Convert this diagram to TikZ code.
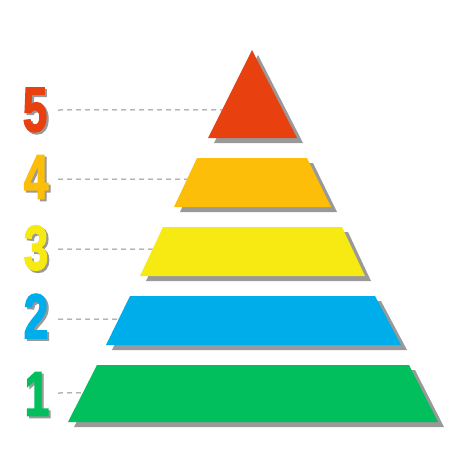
\documentclass[tikz,border=0pt]{standalone}
\usepackage{fontspec}
\setmainfont{Liberation Sans}
\newfontfamily\numfont[FakeBold=2.5]{Liberation Sans Bold}
\usetikzlibrary{calc}
\definecolor{shd}{HTML}{999999}
\definecolor{dashc}{HTML}{8C8C8C}
\definecolor{cfive}{HTML}{E8400F}
\definecolor{cfour}{HTML}{FDBE0A}
\definecolor{cthree}{HTML}{F6EA12}
\definecolor{ctwo}{HTML}{00ADEB}
\definecolor{cone}{HTML}{00BF5C}
\newcommand{\shadowdigit}[1]{\makebox[0pt][l]{\hspace{3pt}\raisebox{-2pt}{\color{shd}#1}}#1}
\begin{document}
\begin{tikzpicture}[x=1pt,y=-1pt,
  shadowfill/.style={fill=shd},
  dashln/.style={draw=dashc, line width=1pt, dash pattern=on 5pt off 4pt},
  num/.style={font=\fontsize{63}{63}\numfont, inner sep=0pt}]
\useasboundingbox[fill=white] (0,0) rectangle (474,474);
% number labels (each with its grey drop shadow)
\foreach \d/\c/\x/\y in {5/cfive/35/111, 4/cfour/36/178, 3/cthree/36/249, 2/ctwo/36/317, 1/cone/37/395}{
  \node[num, text=\c] (n\d) at (\x,\y) {\scalebox{0.7}[1]{\shadowdigit{\d}}};
}
% dashed leader start points
\coordinate (d5) at (58,110);
\coordinate (d4) at (58,179);
\coordinate (d3) at (58,249);
\coordinate (d2) at (58,319);
\coordinate (d1) at (58,393);
% layer corners
\coordinate (a5) at (252,50);  \coordinate (bl5) at (208,138); \coordinate (br5) at (297,138);
\coordinate (tl4) at (197,158); \coordinate (tr4) at (307,158); \coordinate (br4) at (331,207); \coordinate (bl4) at (174,207);
\coordinate (tl3) at (163,227); \coordinate (tr3) at (342,227); \coordinate (br3) at (365,276); \coordinate (bl3) at (140,276);
\coordinate (tl2) at (130,296); \coordinate (tr2) at (375,296); \coordinate (br2) at (401,345); \coordinate (bl2) at (106,345);
\coordinate (tl1) at (97,365);  \coordinate (tr1) at (409,365); \coordinate (br1) at (438,422); \coordinate (bl1) at (68,422);
% leader end points on the left edges
\coordinate (e5) at ($(a5)!0.68!(bl5)$);
\coordinate (e4) at ($(tl4)!0.43!(bl4)$);
\coordinate (e3) at ($(tl3)!0.45!(bl3)$);
\coordinate (e2) at ($(tl2)!0.47!(bl2)$);
\coordinate (e1) at ($(tl1)!0.49!(bl1)$);
\foreach \i in {1,...,5}{ \draw[dashln] (d\i) -- (e\i); }
% shadows
\tikzset{sh/.style={shift={(6,5)}}}
\fill[shadowfill] ([sh]a5) -- ([sh]br5) -- ([sh]bl5) -- cycle;
\foreach \i in {1,...,4}{
  \fill[shadowfill] ([sh]tl\i) -- ([sh]tr\i) -- ([sh]br\i) -- ([sh]bl\i) -- cycle;
}
% layers
\fill[cfive] (a5) -- (br5) -- (bl5) -- cycle;
\fill[cfour] (tl4) -- (tr4) -- (br4) -- (bl4) -- cycle;
\fill[cthree] (tl3) -- (tr3) -- (br3) -- (bl3) -- cycle;
\fill[ctwo] (tl2) -- (tr2) -- (br2) -- (bl2) -- cycle;
\fill[cone] (tl1) -- (tr1) -- (br1) -- (bl1) -- cycle;
\end{tikzpicture}
\end{document}
